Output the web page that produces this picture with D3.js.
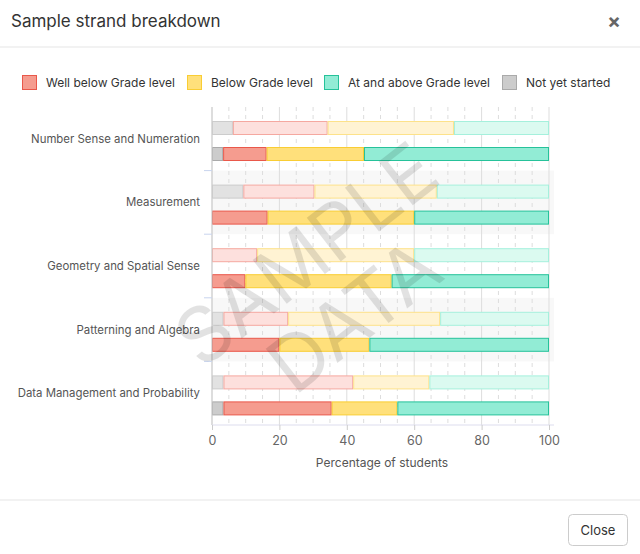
<!DOCTYPE html><html><head><meta charset="utf-8">
<script src="https://cdn.jsdelivr.net/npm/d3@7"></script>
<style>body{margin:0;font-family:Inter,"Open Sans",sans-serif;background:#fff}</style></head><body>
<svg id="c" width="640" height="554"></svg>
<script>
const categories=["Number Sense and Numeration","Measurement","Geometry and Spatial Sense","Patterning and Algebra","Data Management and Probability"];
const seriesNames=["Not yet started","Well below Grade level","Below Grade level","At and above Grade level"];
// earlier (faded) bars
const prevNotStarted=[6.2,9.3,0,3.4,3.4];
const prevWellBelow=[28.1,21.1,13.4,19.2,38.5];
const prevBelow=[37.5,36.3,46.6,45.1,22.6];
const prevAtAbove=[28.2,33.3,40,32.3,35.5];
// current bars
const curNotStarted=[3.3,0,0,0,3.4];
const curWellBelow=[12.9,16.5,9.9,20,32.1];
const curBelow=[28.9,43.5,43.4,26.7,19.5];
const curAtAbove=[54.9,40,46.7,53.3,45];
const xTicks=[0,20,40,60,80,100];

const svg=d3.select("#c");
const fill=["#cccccc","#f59c8f","#ffe07b","#92ecd5"],stroke=["#aaaaaa","#e9584a","#f9cd34","#26c29a"];
const fillL=["#e2e2e2","#fde0dd","#fff3d3","#dbfaf0"],strokeL=["#cccccc","#f5a8a0","#fde28a","#a5f0dc"];
svg.append("text").attr("x",11).attr("y",27).attr("font-size",17).attr("fill","#333").text("Sample strand breakdown");
svg.append("text").attr("x",614).attr("y",28).attr("font-size",20).attr("font-weight","bold").attr("fill","#666").attr("text-anchor","middle").text("×");
svg.append("line").attr("x1",0).attr("x2",640).attr("y1",47).attr("y2",47).attr("stroke","#e5e5e5");
svg.append("line").attr("x1",0).attr("x2",640).attr("y1",500).attr("y2",500).attr("stroke","#e5e5e5");
svg.append("rect").attr("x",568.5).attr("y",514.5).attr("width",59).attr("height",31).attr("rx",4).attr("fill","#fff").attr("stroke","#ccc");
svg.append("text").attr("x",598).attr("y",535).attr("text-anchor","middle").attr("font-size",13).attr("fill","#333").text("Close");
const legOrder=[1,2,3,0],legX=[22,187,324,502];
legOrder.forEach((s,i)=>{svg.append("rect").attr("x",legX[i]+.5).attr("y",75.5).attr("width",14).attr("height",14).attr("fill",fill[s]).attr("stroke",stroke[s]);
svg.append("text").attr("x",legX[i]+24).attr("y",87).attr("font-size",12).attr("fill","#333").text(seriesNames[s]);});
const x=d3.scaleLinear().domain([0,100]).range([212,549]);
const y=d3.scaleBand().domain(categories).range([107,425]);
const g=svg.append("g");
categories.forEach((c,i)=>{if(i%2==1)g.append("rect").attr("x",212).attr("y",y(c)).attr("width",342).attr("height",y.bandwidth()).attr("fill","#f8f8f8");});
d3.range(0,101,5).forEach(v=>{g.append("line").attr("x1",x(v)).attr("x2",x(v)).attr("y1",107).attr("y2",425).attr("stroke","#dddddd").attr("stroke-dasharray",v%20==0?null:"4,4");});
const prev=[prevNotStarted,prevWellBelow,prevBelow,prevAtAbove],cur=[curNotStarted,curWellBelow,curBelow,curAtAbove];
function drawBars(data,off,f,st){categories.forEach((c,i)=>{let acc=0;data.forEach((arr,s)=>{const v=arr[i];if(v>0){g.append("rect").attr("x",x(acc)+.5).attr("y",y(c)+off+.5).attr("width",x(acc+v)-x(acc)-1).attr("height",13).attr("fill",f[s]).attr("stroke",st[s]);}acc+=v;});});}
drawBars(prev,14,fillL,strokeL);drawBars(cur,40,fill,stroke);
g.append("line").attr("x1",212).attr("x2",212).attr("y1",107).attr("y2",425).attr("stroke","#ccc");
g.append("line").attr("x1",212).attr("x2",554).attr("y1",425).attr("y2",425).attr("stroke","#dde");
categories.forEach((c,i)=>{svg.append("text").attr("x",200).attr("y",y(c)+y.bandwidth()/2+4).attr("text-anchor","end").attr("font-size",11.4).attr("fill","#555").text(c);
if(i>0)svg.append("line").attr("x1",204).attr("x2",212).attr("y1",y(c)).attr("y2",y(c)).attr("stroke","#c8d4ee");});
const ax=svg.append("g").attr("transform","translate(0,425)").call(d3.axisBottom(x).tickValues(xTicks).tickSize(5));
ax.select(".domain").remove();ax.selectAll("line").attr("stroke","#ccc");
ax.selectAll("text").attr("font-size",12.5).attr("fill","#666").attr("font-family","Inter,sans-serif").attr("dy","0.95em");
svg.append("text").attr("x",382).attr("y",467).attr("text-anchor","middle").attr("font-size",12).attr("fill","#555").text("Percentage of students");
svg.append("text").attr("transform","translate(330,285) rotate(-38)").attr("text-anchor","middle").attr("font-size",76).attr("fill","#000").attr("opacity",.11).attr("font-family","Inter,sans-serif").selectAll("tspan").data(["SAMPLE","DATA"]).join("tspan").attr("x",0).attr("dy",(d,i)=>i?78:-12).text(d=>d);
</script></body></html>
